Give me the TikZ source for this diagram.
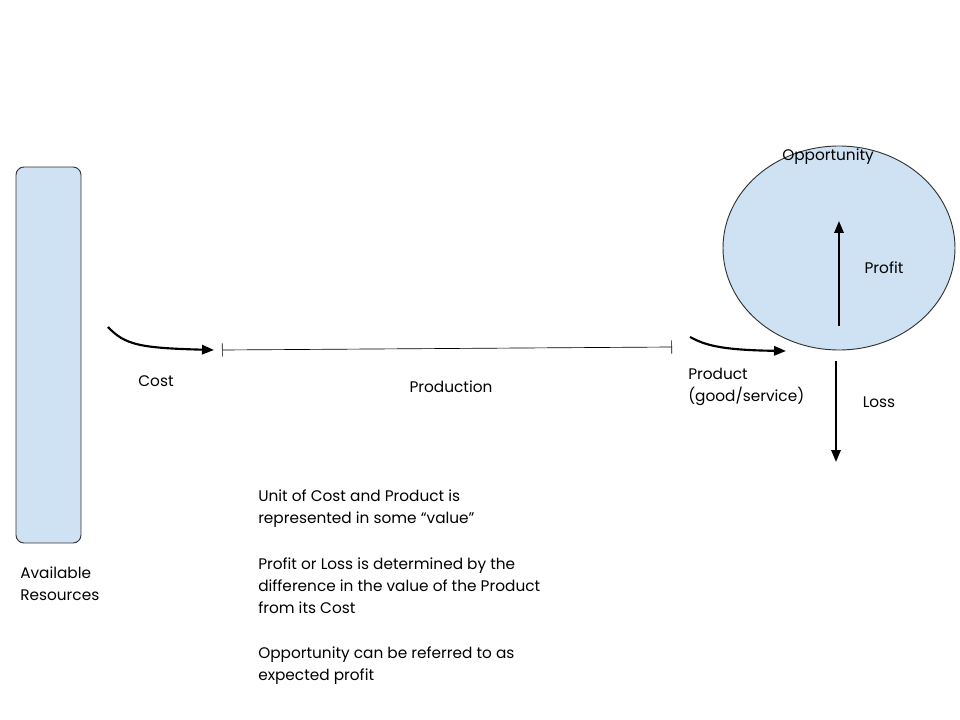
\documentclass[tikz,border=0pt]{standalone}
\usepackage{fontspec}
\setmainfont{Poppins}
\usetikzlibrary{arrows.meta,shapes.geometric}
\definecolor{fillb}{HTML}{CFE2F3}
\begin{document}
\begin{tikzpicture}[x=0.75pt,y=-0.75pt,
  txt/.style={font=\fontsize{11.5}{16.5}\selectfont,inner sep=0pt},
  arr/.style={line width=1.6pt,-{Triangle[length=9pt,width=7pt]}},
  box/.style={draw=black!80,fill=fillb,line width=0.7pt}]
\useasboundingbox (0,0) rectangle (960,720);
\draw[box,rounded corners=6pt] (16,167) rectangle (81,543);
\node[box,ellipse,minimum width=174pt,minimum height=153pt,inner sep=0pt] (opp) at (839,248) {};
% cost
\coordinate (c1) at (108,327); \coordinate (c2) at (214,350);
\draw[arr] (c1) .. controls (125,345) and (140,348) .. (c2);
\node[txt] (cost) at (156,381) {Cost};
% production
\coordinate (p1) at (222,350); \coordinate (p2) at (672,347);
\draw[line width=0.5pt,{Bar[width=10pt]}-{Bar[width=10pt]}] (p1) -- (p2);
\node[txt] (prod) at (451,387) {Production};
% product
\coordinate (d1) at (690,337); \coordinate (d2) at (786,351);
\draw[arr] (d1) .. controls (705,345) and (720,350) .. (d2);
\node[txt,anchor=west,align=left] (product) at (688,387) {Product\\(good/service)};
% profit / loss
\coordinate (f1) at (839,326); \coordinate (f2) at (839,221);
\draw[arr] (f1) -- (f2);
\node[txt] (profit) at (884,268) {Profit};
\coordinate (l1) at (836,361); \coordinate (l2) at (836,462);
\draw[arr] (l1) -- (l2);
\node[txt] (loss) at (879,402) {Loss};
\node[txt] (opplab) at (828,157) {Opportunity};
% texts
\node[txt,anchor=north west,align=left] (n1) at (258,490) {Unit of Cost and Product is\\represented in some “value”};
\node[txt,anchor=north west,align=left] (n2) at (258,558) {Profit or Loss is determined by the\\difference in the value of the Product\\from its Cost};
\node[txt,anchor=north west,align=left] (n3) at (258,647) {Opportunity can be referred to as\\expected profit};
\node[txt,anchor=north west,align=left] (res) at (20,567) {Available\\Resources};
\end{tikzpicture}
\end{document}
